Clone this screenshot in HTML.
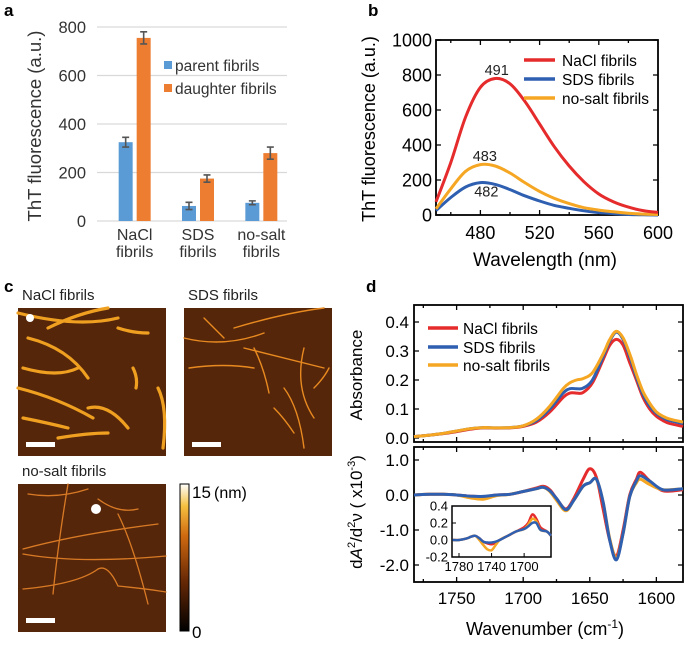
<!DOCTYPE html>
<html><head><meta charset="utf-8">
<style>
body{margin:0;background:#fff;width:685px;height:642px;overflow:hidden;font-family:"Liberation Sans",Arial,sans-serif}
svg text{font-family:"Liberation Sans",Arial,sans-serif}
</style></head>
<body>
<svg id="fig" width="685" height="642" viewBox="0 0 685 642" xmlns="http://www.w3.org/2000/svg">
<text x="4" y="16" font-size="17" font-weight="bold">a</text>
<text x="368" y="16" font-size="17" font-weight="bold">b</text>
<text x="4" y="292" font-size="17" font-weight="bold">c</text>
<text x="366" y="292" font-size="17" font-weight="bold">d</text>
<g id="pa"></g>
<g id="pb"></g>
<g id="pc"></g>
<g id="pd"></g>
</svg>
<script>
// ---- Panel a data
const aCategories=[["NaCl","fibrils"],["SDS","fibrils"],["no-salt","fibrils"]];
const aParent=[325,62,75];
const aParentErr=[20,15,8];
const aDaughter=[755,175,280];
const aDaughterErr=[25,15,25];
const aTicks=[0,200,400,600,800];
// ---- Panel b data
const bWave=[450,460,470,480,490,500,510,520,530,540,550,560,570,580,590,600];
const bNaCl=[75,300,560,730,780,750,650,520,390,280,190,120,75,45,25,15];
const bNoSalt=[35,150,250,288,280,240,185,135,95,65,42,28,18,10,5,3];
const bSDS=[25,100,160,185,175,145,110,80,55,38,24,14,8,3,1,0];
const bXTicks=[480,520,560,600];
const bYTicks=[0,200,400,600,800,1000];
// ---- Panel d data
const dWaveAbs=[1782,1770,1760,1750,1740,1730,1720,1710,1700,1690,1680,1670,1665,1660,1655,1648,1640,1635,1630,1625,1620,1615,1610,1605,1600,1595,1590,1580];
const dAbsNaCl=[0.005,0.01,0.015,0.022,0.03,0.035,0.034,0.035,0.04,0.055,0.09,0.14,0.155,0.155,0.157,0.19,0.27,0.32,0.34,0.32,0.26,0.2,0.14,0.1,0.075,0.06,0.05,0.04];
const dAbsSDS=[0.005,0.01,0.016,0.024,0.032,0.036,0.035,0.036,0.042,0.06,0.1,0.155,0.17,0.17,0.172,0.2,0.28,0.335,0.365,0.34,0.28,0.21,0.15,0.11,0.085,0.07,0.06,0.05];
const dAbsNoSalt=[0.005,0.01,0.016,0.024,0.032,0.036,0.035,0.036,0.042,0.065,0.11,0.17,0.19,0.2,0.205,0.225,0.29,0.34,0.368,0.345,0.29,0.22,0.16,0.12,0.09,0.075,0.065,0.055];
const dWaveDer=[1782,1770,1760,1750,1740,1730,1720,1710,1700,1690,1685,1680,1675,1668,1662,1655,1650,1645,1640,1635,1630,1625,1620,1615,1612,1605,1595,1580];
const dDerNaCl=[0,0.02,0.02,0,-0.03,-0.05,0,0.02,0.1,0.2,0.25,0.15,-0.1,-0.4,-0.1,0.45,0.75,0.5,-0.4,-1.3,-1.75,-1.0,0.0,0.45,0.65,0.4,0.12,0.15];
const dDerSDS=[0,0.02,0.02,0,-0.03,-0.04,0,0.02,0.1,0.18,0.22,0.12,-0.1,-0.42,-0.15,0.25,0.35,0.45,-0.2,-1.3,-1.85,-1.1,-0.05,0.4,0.55,0.4,0.15,0.18];
const dDerNoSalt=[0,0.02,0.02,0,-0.08,-0.12,-0.02,0.02,0.1,0.18,0.22,0.1,-0.15,-0.45,-0.15,0.25,0.35,0.45,-0.2,-1.25,-1.8,-1.1,-0.05,0.35,0.45,0.3,0.15,0.18];
const dInsetWave=[1788,1780,1770,1765,1760,1755,1750,1745,1740,1735,1730,1720,1710,1700,1695,1690,1685,1680,1672,1667];
const dInsetNaCl=[0,0,0.02,0.04,0.05,0.02,-0.02,-0.04,-0.05,-0.03,0,0.05,0.1,0.15,0.2,0.3,0.25,0.15,0.1,0.05];
const dInsetSDS=[0,0,0.02,0.04,0.05,0.02,-0.02,-0.03,-0.03,-0.02,0,0.05,0.1,0.13,0.16,0.2,0.2,0.12,0.1,0.05];
const dInsetNoSalt=[0,0,0.02,0.04,0.05,0.0,-0.06,-0.11,-0.12,-0.06,0,0.05,0.1,0.13,0.18,0.25,0.22,0.12,0.1,0.05];
const dXTicks=[1750,1700,1650,1600];
const dAbsTicks=[0.0,0.1,0.2,0.3,0.4];
const dDerTicks=[-2.0,-1.0,0.0,1.0];
const dInsetXTicks=[1780,1740,1700];
const dInsetYTicks=[-0.2,0.0,0.2,0.4];

const NS="http://www.w3.org/2000/svg";
function mk(parent,tag,attrs,text){const e=document.createElementNS(NS,tag);for(const k in attrs)e.setAttribute(k,attrs[k]);if(text!==undefined)e.textContent=text;parent.appendChild(e);return e;}
function lin(d0,d1,r0,r1){return v=>r0+(v-d0)/(d1-d0)*(r1-r0);}
function smooth(pts){let d="M"+pts[0][0].toFixed(1)+","+pts[0][1].toFixed(1);for(let i=0;i<pts.length-1;i++){const p0=pts[Math.max(0,i-1)],p1=pts[i],p2=pts[i+1],p3=pts[Math.min(pts.length-1,i+2)];const c1=[p1[0]+(p2[0]-p0[0])/6,p1[1]+(p2[1]-p0[1])/6],c2=[p2[0]-(p3[0]-p1[0])/6,p2[1]-(p3[1]-p1[1])/6];d+=`C${c1[0].toFixed(1)},${c1[1].toFixed(1)} ${c2[0].toFixed(1)},${c2[1].toFixed(1)} ${p2[0].toFixed(1)},${p2[1].toFixed(1)}`;}return d;}

// ===== Panel a
(function(){
const g=document.getElementById('pa');
const y=lin(0,800,221,27);
const L=97,R=287;
aTicks.forEach(t=>{
 const gl=mk(g,'line',{x1:L,x2:R,y1:y(t),y2:y(t),stroke:'#d9d9d9','stroke-width':1.3});
 
 const tl=mk(g,'text',{x:86,y:y(t)+6,'font-size':16.5,'text-anchor':'end',fill:'#333'},t);
 
});
const yl=mk(g,'text',{transform:'translate(41,126) rotate(-90)','font-size':18.5,'text-anchor':'middle',fill:'#333'},'ThT fluorescence (a.u.)');

const groupW=(R-L)/3, bw=14;
aCategories.forEach((c,i)=>{
 const cx=L+groupW*(i+0.5)+6;
 [[aParent,aParentErr,'#5b9bd5',-1],[aDaughter,aDaughterErr,'#ed7d31',1]].forEach(([vals,errs,col,s],k)=>{
  const x0=s<0?cx-bw-2:cx+2;
  const b=mk(g,'rect',{x:x0,y:y(vals[i]),width:bw,height:y(0)-y(vals[i]),fill:col});
  
  const xm=x0+bw/2, yt=y(vals[i]+errs[i]), yb=y(vals[i]-errs[i]);
  const e=mk(g,'path',{d:`M${xm},${yt}V${yb}M${xm-3.5},${yt}H${xm+3.5}M${xm-3.5},${yb}H${xm+3.5}`,stroke:'#555','stroke-width':1.6,fill:'none'});
  
 });
 const t1=mk(g,'text',{x:cx,y:240,'font-size':16,'text-anchor':'middle',fill:'#333'},c[0]);
 
 const t2=mk(g,'text',{x:cx,y:257,'font-size':16,'text-anchor':'middle',fill:'#333'},c[1]);
 
});
[['parent fibrils','#5b9bd5',66],['daughter fibrils','#ed7d31',89]].forEach(([n,c,yy])=>{
 const s=mk(g,'rect',{x:164,y:yy-5,width:8,height:8,fill:c});
 
 const t=mk(g,'text',{x:175,y:yy+5,'font-size':15.5,fill:'#333'},n);
 
});
})();

// ===== Panel b
(function(){
const g=document.getElementById('pb');
const x=lin(450,600,436,658), y=lin(0,1000,215,40);
const ax=mk(g,'rect',{x:436,y:40,width:222,height:175,fill:'none',stroke:'#000','stroke-width':1.8});

bYTicks.forEach(t=>{
 mk(g,'path',{d:`M436,${y(t)}h5M658,${y(t)}h-5`,stroke:'#000','stroke-width':1.3});
 const tl=mk(g,'text',{x:432,y:y(t)+6.5,'font-size':18,'text-anchor':'end'},t);
 
});
for(let w=460;w<600;w+=20){mk(g,'path',{d:`M${x(w)},215v-${w%40==0?5:3}M${x(w)},40v${w%40==0?5:3}`,stroke:'#000','stroke-width':1.3});}
bXTicks.forEach(t=>{
 const tl=mk(g,'text',{x:x(t),y:239,'font-size':18,'text-anchor':'middle'},t);
 
});
const xt=mk(g,'text',{x:545,y:266,'font-size':19,'text-anchor':'middle'},'Wavelength (nm)');

const yt=mk(g,'text',{transform:'translate(375,129) rotate(-90)','font-size':18,'text-anchor':'middle'},'ThT fluorescence (a.u.)');

[[bSDS,'#2e5fb0','sds'],[bNoSalt,'#f5a623','no-salt'],[bNaCl,'#e52b2b','nacl']].forEach(([vals,c,n])=>{
 const p=mk(g,'path',{d:smooth(bWave.map((w,i)=>[x(w),y(vals[i])])),fill:'none',stroke:c,'stroke-width':3});
 
});
[['491',491,800],['483',483,310],['482',484,105]].forEach(([t,w,v])=>{
 const a=mk(g,'text',{x:x(w),y:y(v),'font-size':14.5,'text-anchor':'middle',fill:'#222'},t);
 
});
[['NaCl fibrils','#e52b2b',60],['SDS fibrils','#2e5fb0',79],['no-salt fibrils','#f5a623',98]].forEach(([n,c,yy])=>{
 const l=mk(g,'line',{x1:524,x2:555,y1:yy,y2:yy,stroke:c,'stroke-width':3.5});
 
 const t=mk(g,'text',{x:562,y:yy+6,'font-size':15.5},n);
 
});
})();

// ===== Panel c (AFM images)
(function(){
const g=document.getElementById('pc');
const defs=mk(g,'defs',{});
const lg=mk(defs,'linearGradient',{id:'cbar',x1:0,y1:1,x2:0,y2:0});
[['0','#000'],['0.35','#6a2a05'],['0.65','#d06a10'],['0.85','#f5c040'],['1','#fff']].forEach(([o,c])=>mk(lg,'stop',{offset:o,'stop-color':c}));
const imgs=[
 {x:18,y:308,t:'NaCl fibrils',ty:300,thick:3.2,col:'#f0a020',
  f:[[0,5,60,20,100,10],[10,30,50,40,70,70],[5,60,40,70,60,60],[0,80,40,90,75,110],[70,100,90,95,110,120],[30,20,60,5,90,0],[5,110,30,115,50,120],[140,80,150,100,145,140],[100,20,115,25,130,25],[40,130,70,125,90,125],[115,60,120,70,118,80]]},
 {x:184,y:308,t:'SDS fibrils',ty:300,thick:1.4,col:'#e88a20',
  f:[[0,30,40,40,80,25],[50,20,100,5,140,0],[60,40,100,50,140,60],[120,40,110,80,130,110],[100,80,115,100,120,140],[5,60,40,55,70,60],[70,40,80,60,85,85],[90,100,100,110,110,125],[20,10,30,20,40,30],[130,80,140,70,145,60]]},
 {x:18,y:484,t:'no-salt fibrils',ty:476,thick:1.3,col:'#d87a25',
  f:[[5,65,60,50,140,40],[5,70,60,80,148,72],[5,105,60,100,80,85],[80,85,90,80,100,102],[100,102,130,105,148,108],[50,0,40,60,35,110],[100,30,115,60,130,120],[10,10,40,15,70,5],[80,15,100,30,120,25]]}
];
imgs.forEach((im,k)=>{
 const r=mk(g,'rect',{x:im.x,y:im.y,width:148,height:148,fill:'#56260a'});
 
 im.f.forEach(a=>{const p=mk(g,'path',{d:`M${im.x+a[0]},${im.y+a[1]}Q${im.x+a[2]},${im.y+a[3]} ${im.x+a[4]},${im.y+a[5]}`,fill:'none',stroke:im.col,'stroke-width':im.thick,'stroke-linecap':'round'});});
 const sb=mk(g,'rect',{x:im.x+8,y:im.y+134,width:29,height:5,fill:'#fff'});
 
 const t=mk(g,'text',{x:im.x+4,y:im.ty,'font-size':15,fill:'#222'},im.t);
 
});
mk(g,'circle',{cx:96,cy:509,r:5,fill:'#fff'});
mk(g,'circle',{cx:30,cy:318,r:4,fill:'#fff'});
const cb=mk(g,'rect',{x:180,y:484,width:9,height:147,fill:'url(#cbar)',stroke:'#000','stroke-width':1});

const c1=mk(g,'text',{x:192,y:498,'font-size':17},'15');
const c3=mk(g,'text',{x:214,y:498,'font-size':16},'(nm)');
const c2=mk(g,'text',{x:192,y:638,'font-size':17},'0');
})();

// ===== Panel d
(function(){
const g=document.getElementById('pd');
const x=lin(1782,1580,414,683);
const yA=lin(0,0.4,438,322);
const yD=lin(0,1,495,460);
const cols={nacl:'#e52b2b',sds:'#2e5fb0',nosalt:'#f5a623'};
const f1=mk(g,'rect',{x:414,y:305,width:269,height:137,fill:'none',stroke:'#000','stroke-width':1.8});

const f2=mk(g,'rect',{x:414,y:447,width:269,height:135,fill:'none',stroke:'#000','stroke-width':1.8});

dAbsTicks.forEach(t=>{mk(g,'path',{d:`M414,${yA(t)}h5M683,${yA(t)}h-5`,stroke:'#000','stroke-width':1.3});
 const l=mk(g,'text',{x:409,y:yA(t)+6,'font-size':17,'text-anchor':'end'},t.toFixed(1));});
dDerTicks.forEach(t=>{mk(g,'path',{d:`M414,${yD(t)}h5M683,${yD(t)}h-5`,stroke:'#000','stroke-width':1.3});
 const l=mk(g,'text',{x:409,y:yD(t)+6,'font-size':17,'text-anchor':'end'},t.toFixed(1));});
for(let w=1775;w>=1580;w-=25){const big=w%50==0;mk(g,'path',{d:`M${x(w)},582v-${big?5:3}M${x(w)},447v${big?5:3}M${x(w)},442v-${big?5:3}M${x(w)},305v${big?5:3}`,stroke:'#000','stroke-width':1.3});}
dXTicks.forEach(t=>{const l=mk(g,'text',{x:x(t),y:604,'font-size':17,'text-anchor':'middle'},t);});
const xt=mk(g,'text',{x:545,y:635,'font-size':18,'text-anchor':'middle'});

xt.innerHTML='Wavenumber (cm<tspan dy="-7" font-size="12">-1</tspan><tspan dy="7">)</tspan>';
const ya=mk(g,'text',{transform:'translate(362,375) rotate(-90)','font-size':17,'text-anchor':'middle'},'Absorbance');

const yd=mk(g,'text',{transform:'translate(362,512) rotate(-90)','font-size':17,'text-anchor':'middle'});

yd.innerHTML='d<tspan font-style="italic">A</tspan><tspan dy="-7" font-size="11">2</tspan><tspan dy="7">/d</tspan><tspan dy="-7" font-size="11">2</tspan><tspan dy="7">ν ( x10</tspan><tspan dy="-7" font-size="11">-3</tspan><tspan dy="7">)</tspan>';
[[dAbsNaCl,'nacl'],[dAbsSDS,'sds'],[dAbsNoSalt,'nosalt']].forEach(([v,n])=>{
 const p=mk(g,'path',{d:smooth(dWaveAbs.map((w,i)=>[x(w),yA(v[i])])),fill:'none',stroke:cols[n],'stroke-width':3});
 });
[[dDerNaCl,'nacl'],[dDerNoSalt,'nosalt'],[dDerSDS,'sds']].forEach(([v,n])=>{
 const p=mk(g,'path',{d:smooth(dWaveDer.map((w,i)=>[x(w),yD(v[i])])),fill:'none',stroke:cols[n],'stroke-width':3});
 });
[['NaCl fibrils','nacl',328],['SDS fibrils','sds',347],['no-salt fibrils','nosalt',365]].forEach(([t,n,yy])=>{
 const l=mk(g,'line',{x1:428,x2:458,y1:yy,y2:yy,stroke:cols[n],'stroke-width':3.5});
 const tx=mk(g,'text',{x:463,y:yy+6,'font-size':15.5},t);});
// inset
const xi=lin(1788.6,1667,452,551), yi=lin(-0.2,0.4,557,506);
const ib=mk(g,'rect',{x:452,y:506,width:99,height:51,fill:'#fff',stroke:'#000','stroke-width':1.5});

dInsetYTicks.forEach(t=>{mk(g,'path',{d:`M452,${yi(t)}h4`,stroke:'#000'});
 const l=mk(g,'text',{x:448,y:yi(t)+4.5,'font-size':13,'text-anchor':'end'},t.toFixed(1));});
dInsetXTicks.forEach(t=>{mk(g,'path',{d:`M${xi(t)},557v-4`,stroke:'#000'});
 const l=mk(g,'text',{x:xi(t),y:571,'font-size':13,'text-anchor':'middle'},t);});
[[dInsetNaCl,'nacl'],[dInsetNoSalt,'nosalt'],[dInsetSDS,'sds']].forEach(([v,n])=>{
 const p=mk(g,'path',{d:smooth(dInsetWave.map((w,i)=>[xi(w),yi(v[i])])),fill:'none',stroke:cols[n],'stroke-width':2.5});
 });
})();
</script>
</body></html>
